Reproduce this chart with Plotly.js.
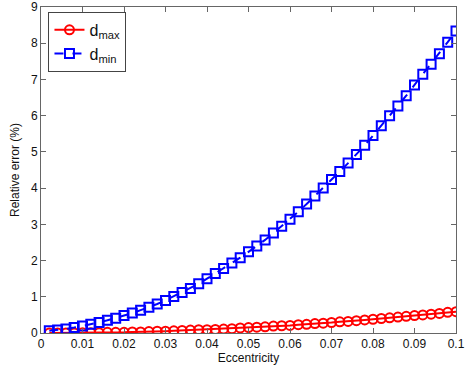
<!DOCTYPE html>
<html>
<head>
<meta charset="utf-8">
<script src="https://cdn.plot.ly/plotly-3.0.1.min.js"></script>
<style>
html,body{margin:0;padding:0;background:#fff;}
#chart{width:474px;height:377px;}
</style>
</head>
<body>
<div id="chart"></div>
<script>
const eccentricity = [0.002,0.004,0.006,0.008,0.010,0.012,0.014,0.016,0.018,0.020,
  0.022,0.024,0.026,0.028,0.030,0.032,0.034,0.036,0.038,0.040,
  0.042,0.044,0.046,0.048,0.050,0.052,0.054,0.056,0.058,0.060,
  0.062,0.064,0.066,0.068,0.070,0.072,0.074,0.076,0.078,0.080,
  0.082,0.084,0.086,0.088,0.090,0.092,0.094,0.096,0.098,0.100];

const dmaxError = [0.00,0.00,0.00,0.00,0.01,0.01,0.01,0.02,0.02,0.02,
  0.03,0.03,0.04,0.05,0.05,0.06,0.07,0.08,0.09,0.09,
  0.10,0.11,0.12,0.14,0.15,0.16,0.17,0.19,0.20,0.21,
  0.23,0.24,0.26,0.27,0.29,0.31,0.32,0.34,0.36,0.38,
  0.40,0.42,0.44,0.46,0.48,0.50,0.52,0.54,0.57,0.59];

const dminError = [0.06,0.08,0.11,0.15,0.19,0.24,0.29,0.35,0.41,0.48,
  0.55,0.63,0.71,0.80,0.90,1.01,1.12,1.23,1.36,1.50,
  1.64,1.78,1.93,2.08,2.24,2.40,2.57,2.76,2.95,3.14,
  3.35,3.56,3.78,4.00,4.24,4.46,4.69,4.93,5.18,5.45,
  5.72,6.00,6.27,6.55,6.85,7.14,7.42,7.71,8.03,8.34];

const xTicks = [0,0.01,0.02,0.03,0.04,0.05,0.06,0.07,0.08,0.09,0.1];
const xTickLabels = ['0','0.01','0.02','0.03','0.04','0.05','0.06','0.07','0.08','0.09','0.1'];
const yTicks = [0,1,2,3,4,5,6,7,8,9];

const font = 'Liberation Sans, Arial, sans-serif';

const traces = [
  {
    x: eccentricity, y: dmaxError, name: 'd<sub>max</sub>',
    mode: 'lines+markers', type: 'scatter',
    line: {color: '#ff0000', width: 2},
    marker: {symbol: 'circle-open', size: 9, color: '#ff0000', line: {width: 2, color: '#ff0000'}}
  },
  {
    x: eccentricity, y: dminError, name: 'd<sub>min</sub>',
    mode: 'lines+markers', type: 'scatter',
    line: {color: '#0000ff', width: 2, dash: 'dash'},
    marker: {symbol: 'square-open', size: 9, color: '#0000ff', line: {width: 2, color: '#0000ff'}}
  }
];

const axisCommon = {
  showgrid: false, zeroline: false, showline: true, mirror: 'ticks',
  linecolor: '#666', linewidth: 1, ticks: 'inside', ticklen: 5, tickcolor: '#666',
  tickfont: {family: font, size: 12, color: '#111'}
};

const layout = {
  width: 474, height: 377,
  margin: {l: 41, r: 18, t: 7, b: 44},
  paper_bgcolor: '#fff', plot_bgcolor: '#fff',
  showlegend: true,
  legend: {
    x: 0.018, y: 0.985, xanchor: 'left', yanchor: 'top',
    bordercolor: '#444', borderwidth: 1, bgcolor: '#fff',
    font: {family: font, size: 16, color: '#111'},
    tracegroupgap: 2
  },
  xaxis: Object.assign({}, axisCommon, {
    range: [0, 0.1], tickvals: xTicks, ticktext: xTickLabels,
    title: {text: 'Eccentricity', font: {family: font, size: 12, color: '#111'}, standoff: 1}
  }),
  yaxis: Object.assign({}, axisCommon, {
    range: [0, 9], tickvals: yTicks,
    title: {text: 'Relative error (%)', font: {family: font, size: 12, color: '#111'}, standoff: 8}
  })
};

Plotly.newPlot('chart', traces, layout, {displayModeBar: false, staticPlot: true});
</script>
</body>
</html>
